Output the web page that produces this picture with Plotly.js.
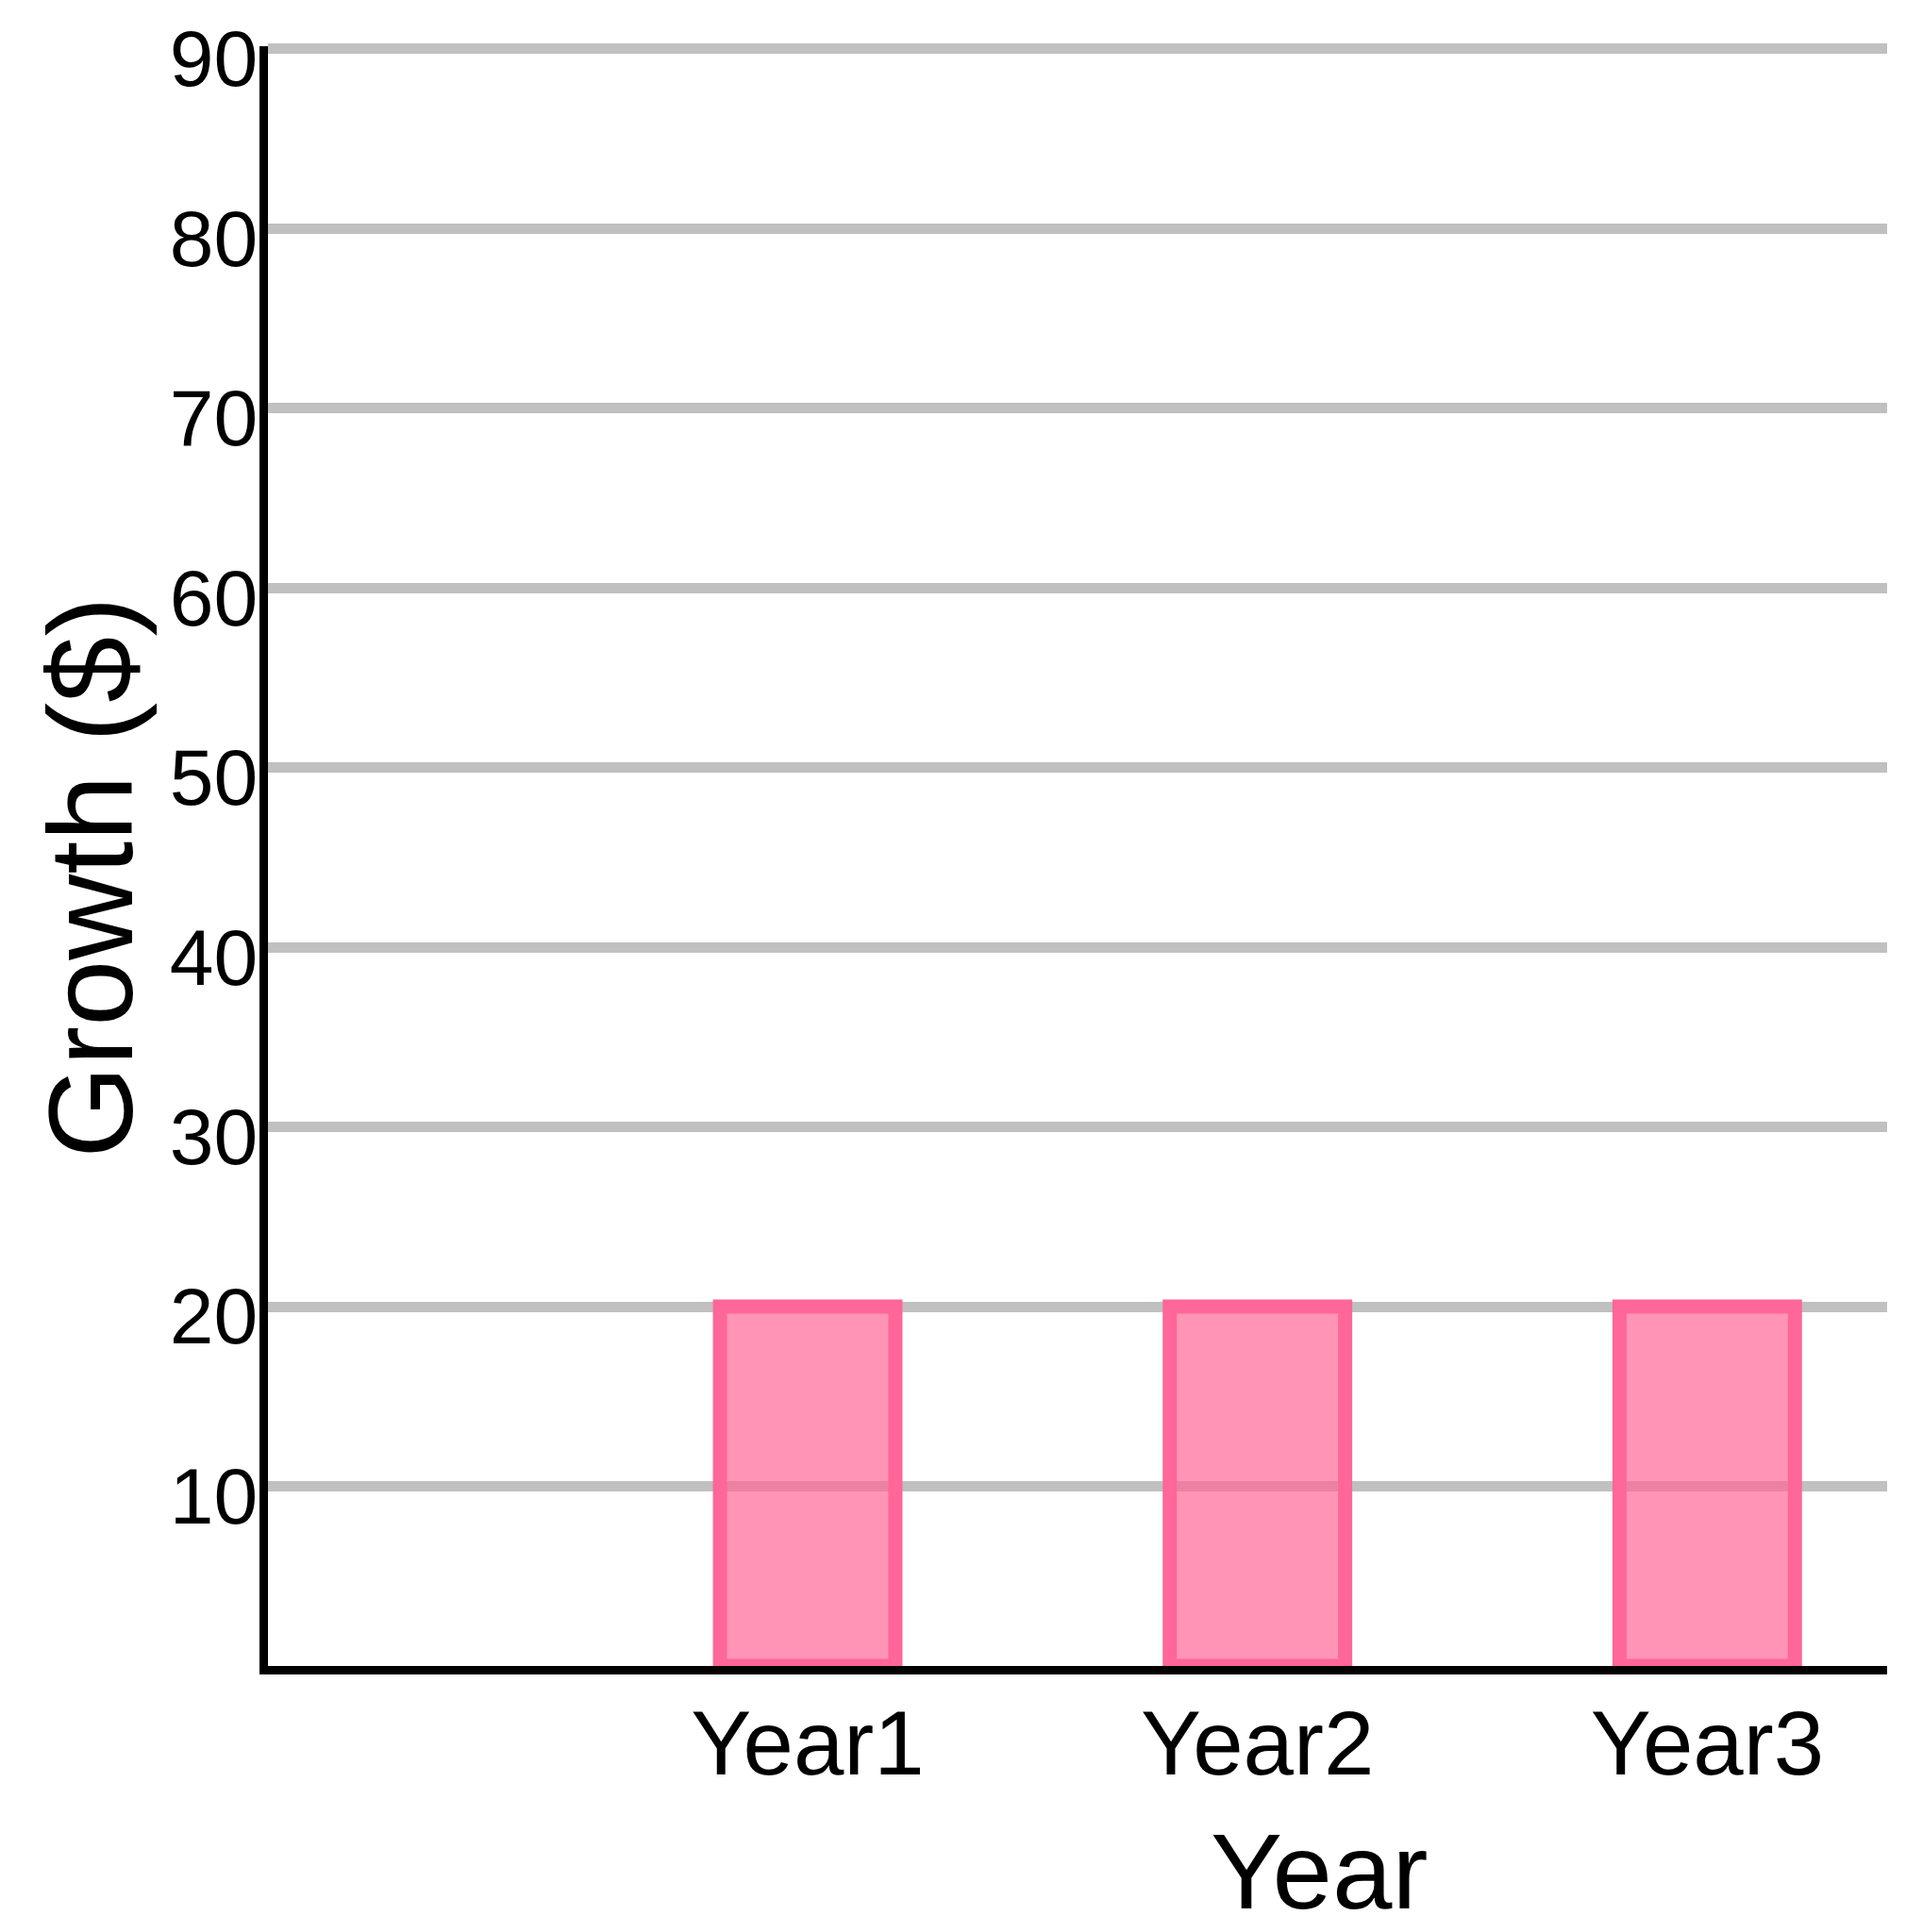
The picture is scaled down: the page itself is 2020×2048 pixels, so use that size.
<!DOCTYPE html>
<html>
<head>
<meta charset="utf-8">
<script src="https://cdn.plot.ly/plotly-3.0.1.min.js"></script>
<style>
  html, body { margin: 0; padding: 0; background: #fff; }
  #chart { width: 2020px; height: 2048px; }
</style>
</head>
<body>
<div id="chart"></div>
<script>
// data
var years = ['Year1', 'Year2', 'Year3'];
var growth = [20, 20, 20];
var yTicks = [10, 20, 30, 40, 50, 60, 70, 80, 90];

var font = 'Liberation Sans, Arial, sans-serif';

var trace = {
  type: 'bar',
  x: years,
  y: growth,
  width: 0.39,
  marker: {
    color: 'rgba(255,102,153,0.7)',
    line: { color: 'rgb(255,102,153)', width: 15 }
  },
  hoverinfo: 'none'
};

var layout = {
  width: 2020,
  height: 2048,
  margin: { l: 284, r: 20, t: 49, b: 282 },
  paper_bgcolor: '#fff',
  plot_bgcolor: '#fff',
  showlegend: false,
  font: { family: font, color: '#000' },
  xaxis: {
    type: 'category',
    range: [-1.2, 2.4],
    showgrid: false,
    showline: true,
    linecolor: '#000',
    linewidth: 9,
    ticks: '',
    tickfont: { size: 96, family: font },
    ticklabelstandoff: -9,
    zeroline: false
  },
  yaxis: {
    range: [0, 90.15],
    tickvals: yTicks,
    showgrid: true,
    gridcolor: '#c0c0c0',
    gridwidth: 11,
    showline: true,
    linecolor: '#000',
    linewidth: 9,
    ticks: '',
    tickfont: { size: 84, family: font },
    ticklabelstandoff: -15,
    ticklabelshift: 10,
    zeroline: false
  },
  annotations: [
    {
      text: 'Growth ($)',
      xref: 'paper', yref: 'paper',
      x: -0.109, y: 0.487,
      xanchor: 'center', yanchor: 'middle',
      textangle: -90,
      showarrow: false,
      font: { size: 126, family: font, color: '#000' }
    },
    {
      text: 'Year',
      xref: 'paper', yref: 'paper',
      x: 0.649, y: -0.1266,
      xanchor: 'center', yanchor: 'middle',
      showarrow: false,
      font: { size: 114, family: font, color: '#000' }
    }
  ]
};

Plotly.newPlot('chart', [trace], layout, { displayModeBar: false, staticPlot: true });
</script>
</body>
</html>
